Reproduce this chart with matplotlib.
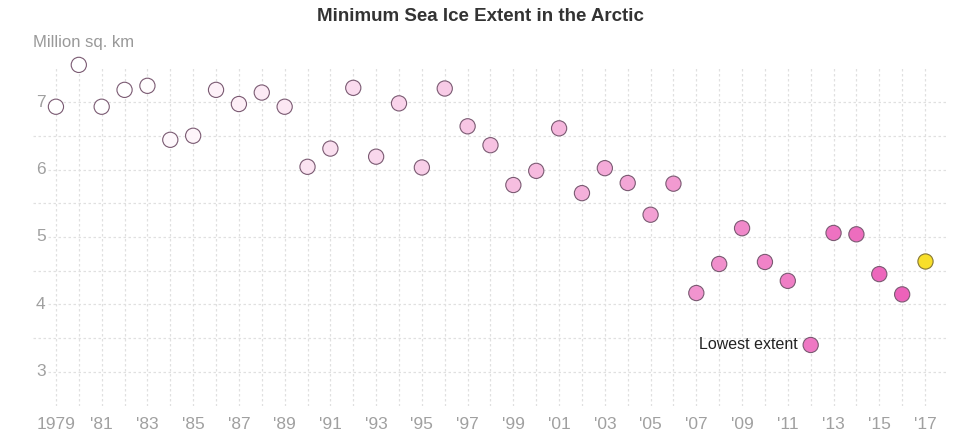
import matplotlib.pyplot as plt
import numpy as np
from matplotlib.colors import LinearSegmentedColormap, Normalize

# minimum arctic sea ice extent, million sq. km
years = np.arange(1979, 2018)
extent = [
    6.93, 7.55, 6.93, 7.18, 7.24, 6.44, 6.50, 7.18, 6.97, 7.14,
    6.93, 6.04, 6.31, 7.21, 6.19, 6.98, 6.03, 7.20, 6.64, 6.36,
    5.77, 5.98, 6.61, 5.65, 6.02, 5.80, 5.33, 5.79, 4.17, 4.60,
    5.13, 4.63, 4.35, 3.40, 5.06, 5.04, 4.45, 4.15, 4.64,
]
lowest_year = 2012
current_year = 2017

y_ticks = [3, 4, 5, 6, 7]
x_ticks = list(range(1979, 2018, 2))
x_labels = ["1979"] + ["'" + str(y)[2:] for y in x_ticks[1:]]

plt.rcParams["font.family"] = ["Liberation Sans", "DejaVu Sans"]

fig = plt.figure(figsize=(9.64, 4.47), dpi=100)
ax = fig.add_axes([0.0343, 0.0923, 0.9490, 0.7550])
ax.set_xlim(1978, 2018)
ax.set_ylim(2.5, 7.5)

# dotted grid
for yr in years:
    ax.axvline(yr, color="#e0e0e0", lw=0.9, ls=(0, (2, 2)), zorder=0)
for v in np.arange(3, 7.01, 0.5):
    ax.axhline(v, color="#e0e0e0", lw=0.9, ls=(0, (2, 2)), zorder=0)

for s in ax.spines.values():
    s.set_visible(False)
ax.set_yticks([])
ax.set_xticks(x_ticks)
ax.set_xticklabels(x_labels, color="#a0a0a0", fontsize=12.5)
ax.tick_params(axis="x", length=0, pad=8)

for v in y_ticks:
    ax.text(1978.55, v, str(v), ha="right", va="center", fontsize=12.5,
            color="#a0a0a0", zorder=2,
            bbox=dict(boxstyle="square,pad=0.15", fc="white", ec="none"))

cmap = LinearSegmentedColormap.from_list(
    "ice", [(0, "#ffffff"), (0.08, "#ffffff"), (0.3, "#fbe3f1"),
            (0.6, "#f5b5dc"), (1, "#ec62ba")])
norm = Normalize(1979, 2016)

yrs = np.array(years)
ext = np.array(extent)
past = yrs < current_year
ax.scatter(yrs[past], ext[past], s=120, c=cmap(norm(yrs[past])),
           edgecolors="#7a5a72", linewidths=0.8, zorder=3, clip_on=False)
ax.scatter(yrs[~past], ext[~past], s=120, c="#f8df2a",
           edgecolors="#857634", linewidths=0.8, zorder=3, clip_on=False)

low = ext[yrs == lowest_year][0]
ax.text(lowest_year - 0.55, low, "Lowest extent", ha="right", va="center",
        fontsize=11.5, color="#222222")

fig.text(0.498, 0.962, "Minimum Sea Ice Extent in the Arctic", ha="center",
         va="center", fontsize=13.5, fontweight="bold", color="#333333")
fig.text(0.034, 0.906, "Million sq. km", ha="left", va="center",
         fontsize=12, color="#999999")

fig.savefig("out.png", dpi=100)
